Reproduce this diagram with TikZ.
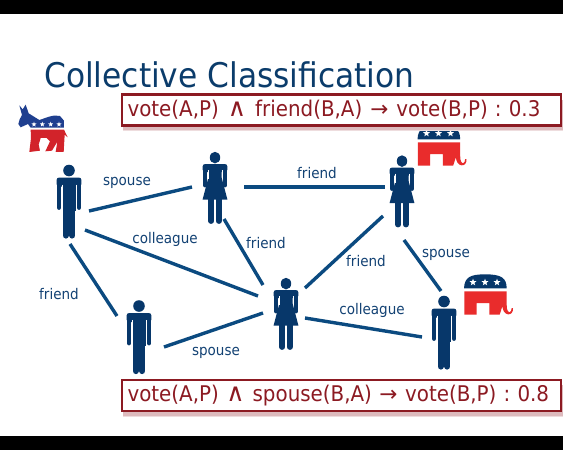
\documentclass[tikz,border=0pt]{standalone}
\usepackage{fontspec}
\setmainfont[FakeStretch=0.92]{DejaVu Sans}
\newfontfamily\symf{DejaVu Sans}
\definecolor{navy}{HTML}{07376A}
\definecolor{linkblue}{HTML}{0B4A80}
\definecolor{titleblue}{HTML}{0B3C6B}
\definecolor{labelblue}{HTML}{134274}
\definecolor{boxred}{HTML}{8C1A22}
\definecolor{gopred}{HTML}{E92C2C}
\definecolor{demred}{HTML}{D2232A}
\definecolor{demblue}{HTML}{1F3F8F}
\newcommand{\starshape}[3]{\fill[white,shift={(#1,#2)}] (-90:#3) \foreach \a in {-54,-18,18,54,90,126,162,198,234}{ -- ({\a}:{mod(\a+90,72)==0 ? #3 : #3*0.42})} -- cycle;}
\newcommand{\andsym}{\hspace{9pt}{\symf\fontsize{25}{25}\selectfont ∧}\hspace{9pt}}
\newcommand{\arrsym}{\hspace{8pt}{\symf →}\hspace{8pt}}
\tikzset{
  x=1pt,y=-1pt,
  figbox/.style={inner sep=0pt,minimum width=26pt,minimum height=74pt},
  link/.style={draw=linkblue,line width=3.4pt},
  rel/.style={text=labelblue,font=\fontsize{14.7}{16}\selectfont,inner sep=0pt},
  rulebox/.style={draw=boxred,line width=2.4pt,fill=white,text=boxred,inner xsep=5.5pt,inner ysep=0pt,text width=428pt,align=left,minimum height=31pt,font=\fontsize{21.6}{24}\selectfont},
  man/.pic={
    \begin{scope}[shift={(0,-37)}]
      \fill[navy] (0,6) circle[radius=5.8];
      \fill[navy,rounded corners=2.5pt] (-12.4,22) -- (-12.4,13) -- (12.4,13) -- (12.4,22) -- cycle;
      \fill[navy] (-6.5,16) rectangle (6.5,46);
      \draw[navy,line width=4.9pt,line cap=round] (-10,17) -- (-10,43) (10,17) -- (10,43);
      \draw[white,line width=.7pt] (-7.1,20) -- (-7.1,46) (7.1,20) -- (7.1,46);
      \draw[navy,line width=6.2pt,line cap=round] (-3.3,44) -- (-3.3,71) (3.3,44) -- (3.3,71);
    \end{scope}
  },
  woman/.pic={
    \begin{scope}[shift={(0,-36)}]
      \fill[navy] (0,5.6) ellipse[x radius=5.2,y radius=5.8];
      \fill[navy,rounded corners=2.5pt] (-12.4,20) -- (-12.4,12) -- (12.4,12) -- (12.4,20) -- cycle;
      \fill[navy] (-6.5,15) -- (6.5,15) -- (6.5,25) -- (12.4,47.5) -- (-12.4,47.5) -- (-6.5,25) -- cycle;
      \draw[navy,line width=4.9pt,line cap=round] (-10,16) -- (-10,33) (10,16) -- (10,33);
      \draw[white,line width=.7pt] (-7.1,18) -- (-7.1,27) (7.1,18) -- (7.1,27);
      \draw[navy,line width=5.8pt,line cap=round] (-3.7,46) -- (-3.7,69) (3.7,46) -- (3.7,69);
    \end{scope}
  },
  elephant/.pic={
    \begin{scope}[scale=1/3]
      \fill[navy] (6,46) .. controls (8,12) and (25,4) .. (70,4) .. controls (118,4) and (134,15) .. (134,46) -- cycle;
      \fill[gopred] (7,55) -- (134,55) -- (134,95) .. controls (134,115) and (140,118) .. (142,118) .. controls (147,118) and (148,112) .. (149,105) -- (153,105) .. controls (154,118) and (147,125) .. (138,124) .. controls (128,123) and (122,112) .. (121,100) -- (113,125) -- (82,125) -- (82,90) -- (44,90) -- (44,125) -- (7,125) -- cycle;
      \starshape{33}{28}{11}
      \starshape{69}{28}{11}
      \starshape{105}{28}{11}
    \end{scope}
  },
  donkey/.pic={
    \begin{scope}[scale=1/3]
      \fill[demblue] (55,372) -- (59,358) -- (66,345) -- (58,316) -- (68,328) -- (77,314) -- (86,340) -- (118,360) .. controls (135,355) and (160,342) .. (180,348) -- (192,362) -- (192,383) -- (92,383) -- (84,372) -- (62,382) -- cycle;
      \fill[demred] (92,389) -- (192,389) -- (203,412) -- (194,404) -- (191,456) -- (167,456) -- (172,425) -- (156,452) -- (136,454) -- (150,424) -- (140,414) -- (122,414) -- (116,434) -- (120,452) -- (88,456) -- (93,414) -- cycle;
      \starshape{102}{373}{8}
      \starshape{127}{373}{8}
      \starshape{152}{373}{8}
      \starshape{177}{373}{8}
    \end{scope}
  }
}
\begin{document}
\begin{tikzpicture}
\useasboundingbox (0,0) rectangle (563,450);
\fill[white] (0,0) rectangle (563,450);
\fill[black] (0,0) rectangle (563,14);
\fill[black] (0,436) rectangle (563,450);
\node[anchor=base west,inner sep=0pt,text=titleblue,font=\fontsize{34}{38}\selectfont] (title) at (44,87) {Collective Classification};
\pic at (0,0) {donkey};
\pic at (415.5,124) {elephant};
\pic at (462,273) {elephant};
% shadows of the rule boxes
\fill[boxred!15] (123,100) rectangle (563,131);
\fill[boxred!30] (123,100) rectangle (563,129.5);
\fill[boxred!15] (123,385) rectangle (563,417);
\fill[boxred!30] (123,385) rectangle (563,415.5);
\node[rulebox] (r1) at (341.5,110) {\raisebox{-2pt}{vote(A,P)\andsym friend(B,A)\arrsym vote(B,P) : 0.3}};
\node[rulebox] (r2) at (341.5,395.5) {\raisebox{-2.5pt}{vote(A,P)\hspace{7.5pt}{\symf\fontsize{25}{25}\selectfont ∧}\hspace{8pt}spouse(B,A)\hspace{7.5pt}{\symf →}\hspace{7.5pt}vote(B,P) : 0.8}};
% people
\node[figbox] (m1) at (69,201.5) {};
\node[figbox] (m2) at (139,337) {};
\node[figbox] (m3) at (444,332.5) {};
\node[figbox] (w1) at (215,188) {};
\node[figbox] (w2) at (402,191.5) {};
\node[figbox] (w3) at (286,314) {};
\pic at (m1) {man};
\pic at (m2) {man};
\pic at (m3) {man};
\pic at (w1) {woman};
\pic at (w2) {woman};
\pic at (w3) {woman};
% links
\path[link] ([shift={(20,9.5)}]m1.center) -- ([shift={(-23,-1)}]w1.center);
\path[link] ([shift={(29,-1)}]w1.center) -- ([shift={(-17,-4.5)}]w2.center);
\path[link] ([shift={(16,28.5)}]m1.center) -- ([shift={(-28,-18)}]w3.center);
\path[link] ([shift={(9,31)}]w1.center) -- ([shift={(-23,-29)}]w3.center);
\path[link] ([shift={(-19,24.5)}]w2.center) -- ([shift={(19,-26)}]w3.center);
\path[link] ([shift={(2,48.5)}]w2.center) -- ([shift={(-3,-41.5)}]m3.center);
\path[link] ([shift={(19,4)}]w3.center) -- ([shift={(-22,4.5)}]m3.center);
\path[link] ([shift={(25,10)}]m2.center) -- ([shift={(-23,-1)}]w3.center);
\path[link] ([shift={(1,42.5)}]m1.center) -- ([shift={(-22,-21)}]m2.center);
% labels
\node[rel] (l1) at (127,183) {spouse};
\node[rel] (l2) at (317,173) {friend};
\node[rel] (l3) at (165,239) {colleague};
\node[rel] (l4) at (266,243) {friend};
\node[rel] (l5) at (366,261) {friend};
\node[rel] (l6) at (446,255) {spouse};
\node[rel] (l7) at (372,310) {colleague};
\node[rel] (l8) at (216,353) {spouse};
\node[rel] (l9) at (59,294) {friend};
\end{tikzpicture}
\end{document}
